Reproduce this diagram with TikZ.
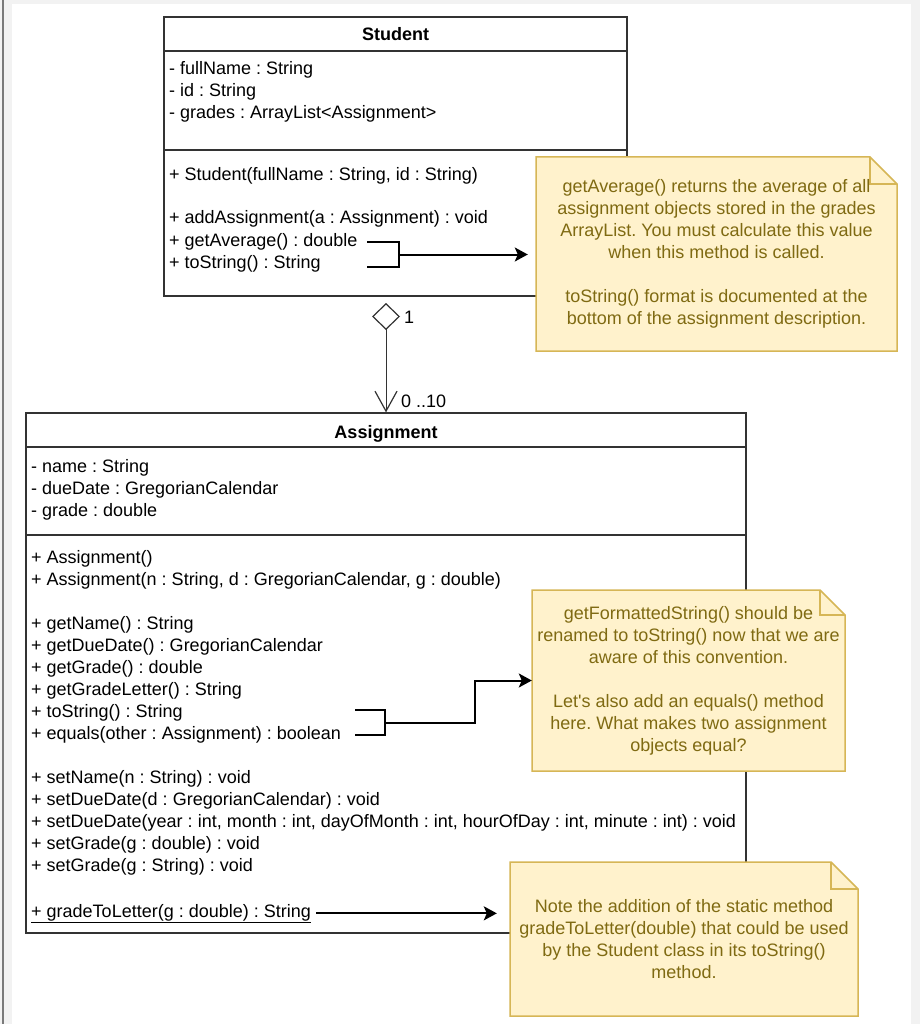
\documentclass[tikz,border=0pt]{standalone}
\usepackage{fontspec}
\setmainfont{Liberation Sans}
\usetikzlibrary{arrows.meta}
\usetikzlibrary{calc}
\frenchspacing

\definecolor{notefill}{HTML}{FFF2CC}
\definecolor{noteline}{HTML}{D6B656}
\definecolor{notefont}{HTML}{7F6A12}
\definecolor{pagegray}{HTML}{F2F2F2}
\definecolor{edgegray}{HTML}{7A7A7A}
\definecolor{umlline}{HTML}{333333}

\tikzset{
  member/.style={anchor=base west, inner sep=0pt, font=\fontsize{18}{22}\selectfont},
  header/.style={anchor=base, inner sep=0pt, font=\fontsize{18}{22}\selectfont\bfseries},
  mult/.style={anchor=west, inner sep=0pt, font=\fontsize{18}{22}\selectfont},
  classbox/.style={draw=umlline, line width=1.2pt, fill=white, inner sep=0pt},
  sepline/.style={draw=umlline, line width=1.2pt},
  notepaper/.style={draw=noteline, fill=notefill, line width=1.5pt, line join=miter},
  notetext/.style={align=center, inner sep=0pt, text=notefont, font=\fontsize{18}{22}\selectfont},
  bracket/.style={line width=2pt},
  notearrow/.style={line width=2pt, -{Stealth[length=13pt, width=14pt, inset=3pt]}},
}

% note sheet with folded corner: x1 y1 x2 y2 fold
\newcommand{\notepaper}[5]{
  \filldraw[notepaper] (#1,#2) -- (#3-#5,#2) -- (#3,#2+#5) -- (#3,#4) -- (#1,#4) -- cycle;
  \draw[notepaper, fill=none] (#3-#5,#2) -- (#3-#5,#2+#5) -- (#3,#2+#5);
}

\begin{document}
\begin{tikzpicture}[x=1pt, y=-1pt]
  \useasboundingbox (0,0) rectangle (920,1024);
  \fill[pagegray] (0,0) rectangle (920,1024);
  \fill[white] (12,4) rectangle (911,1024);
  \fill[edgegray] (1.5,0) rectangle (3.5,1024);

  % Student class
  \node[classbox, minimum width=463pt, minimum height=279pt] (student) at (395.5,156.5) {};
  \draw[sepline] (164,51) -- (627,51);
  \draw[sepline] (164,150) -- (627,150);
  \node[header] (stitle) at (395.5,41) {Student};
  \foreach \nm/\yy/\mtext in {sfull/75/{- fullName : String}, sid/97/{- id : String},
      sgrades/119/{- grades : ArrayList<Assignment>},
      sctor/181/{+ Student(fullName : String, id : String)},
      sadd/224/{+ addAssignment(a : Assignment) : void},
      savg/246/{+ getAverage() : double}, sstr/268/{+ toString() : String}}
    \node[member] (\nm) at (169,\yy) {\mtext};

  % Assignment class
  \node[classbox, minimum width=720pt, minimum height=520pt] (assignment) at (386,673) {};
  \draw[sepline] (26,447) -- (746,447);
  \draw[sepline] (26,535) -- (746,535);
  \node[header] (atitle) at (386,438) {Assignment};
  \foreach \nm/\yy/\mtext in {aname/472/{- name : String}, adue/494/{- dueDate : GregorianCalendar},
      agrade/516/{- grade : double},
      actor/563/{+ Assignment()},
      actorfull/585/{+ Assignment(n : String, d : GregorianCalendar, g : double)},
      agetname/629/{+ getName() : String}, agetdue/651/{+ getDueDate() : GregorianCalendar},
      agetgrade/673/{+ getGrade() : double}, agetletter/695/{+ getGradeLetter() : String},
      astr/717/{+ toString() : String}, aequals/739/{+ equals(other : Assignment) : boolean},
      asetname/783/{+ setName(n : String) : void},
      asetdue/805/{+ setDueDate(d : GregorianCalendar) : void},
      asetduefull/827/{+ setDueDate(year : int, month : int, dayOfMonth : int, hourOfDay : int, minute : int) : void},
      asetgrade/849/{+ setGrade(g : double) : void}, asetgradestr/871/{+ setGrade(g : String) : void}}
    \node[member] (\nm) at (31,\yy) {\mtext};
  \node[member] (agtl) at (31,917) {\underline{+ gradeToLetter(g : double) : String}};

  % aggregation
  \coordinate (aggtop) at (386,303);
  \draw[umlline, line width=1pt, {Diamond[open, length=27pt, width=28pt, line width=1.2pt]}-{Straight Barb[length=20pt, width=22pt, line width=1.2pt]}]
    (aggtop) -- (aggtop |- assignment.north);
  \node[mult] (multone) at (404,317) {1};
  \node[mult] (multmany) at (401,401) {0 ..10};

  % notes
  \notepaper{536}{157}{897}{351}{27}
  \node[notetext, minimum width=361pt, minimum height=194pt] (avgnote) at (716.5,254)
    {getAverage() returns the average of all\\assignment objects stored in the grades\\ArrayList. You must calculate this value\\when this method is called.\\[22pt]toString() format is documented at the\\bottom of the assignment description.};
  \notepaper{532}{590}{845}{771}{25}
  \node[notetext, minimum width=313pt, minimum height=181pt] (fmtnote) at (688.5,680.5)
    {getFormattedString() should be\\renamed to toString() now that we are\\aware of this convention.\\[22pt]Let\textquotesingle s also add an equals() method\\here. What makes two assignment\\objects equal?};
  \notepaper{510}{862}{858}{1016}{27}
  \node[notetext, minimum width=348pt, minimum height=154pt] (letternote) at (684,939)
    {Note the addition of the static method\\gradeToLetter(double) that could be used\\by the Student class in its toString()\\method.};

  % connectors to notes
  \coordinate (sbrace) at (399,254.5);
  \draw[bracket] (367,242) -| (sbrace) |- (367,267);
  \draw[notearrow, shorten >=8pt] (sbrace) -- (sbrace -| avgnote.west);

  \coordinate (abrace) at (385,722.5);
  \draw[bracket] (355,710) -| (abrace) |- (355,735);
  \draw[notearrow] (abrace) -- ++(90,0) |- (fmtnote.west);

  \draw[notearrow, shorten >=13pt] ($(agtl.east)+(5,0)$) -- (agtl.east -| letternote.west);
\end{tikzpicture}
\end{document}
